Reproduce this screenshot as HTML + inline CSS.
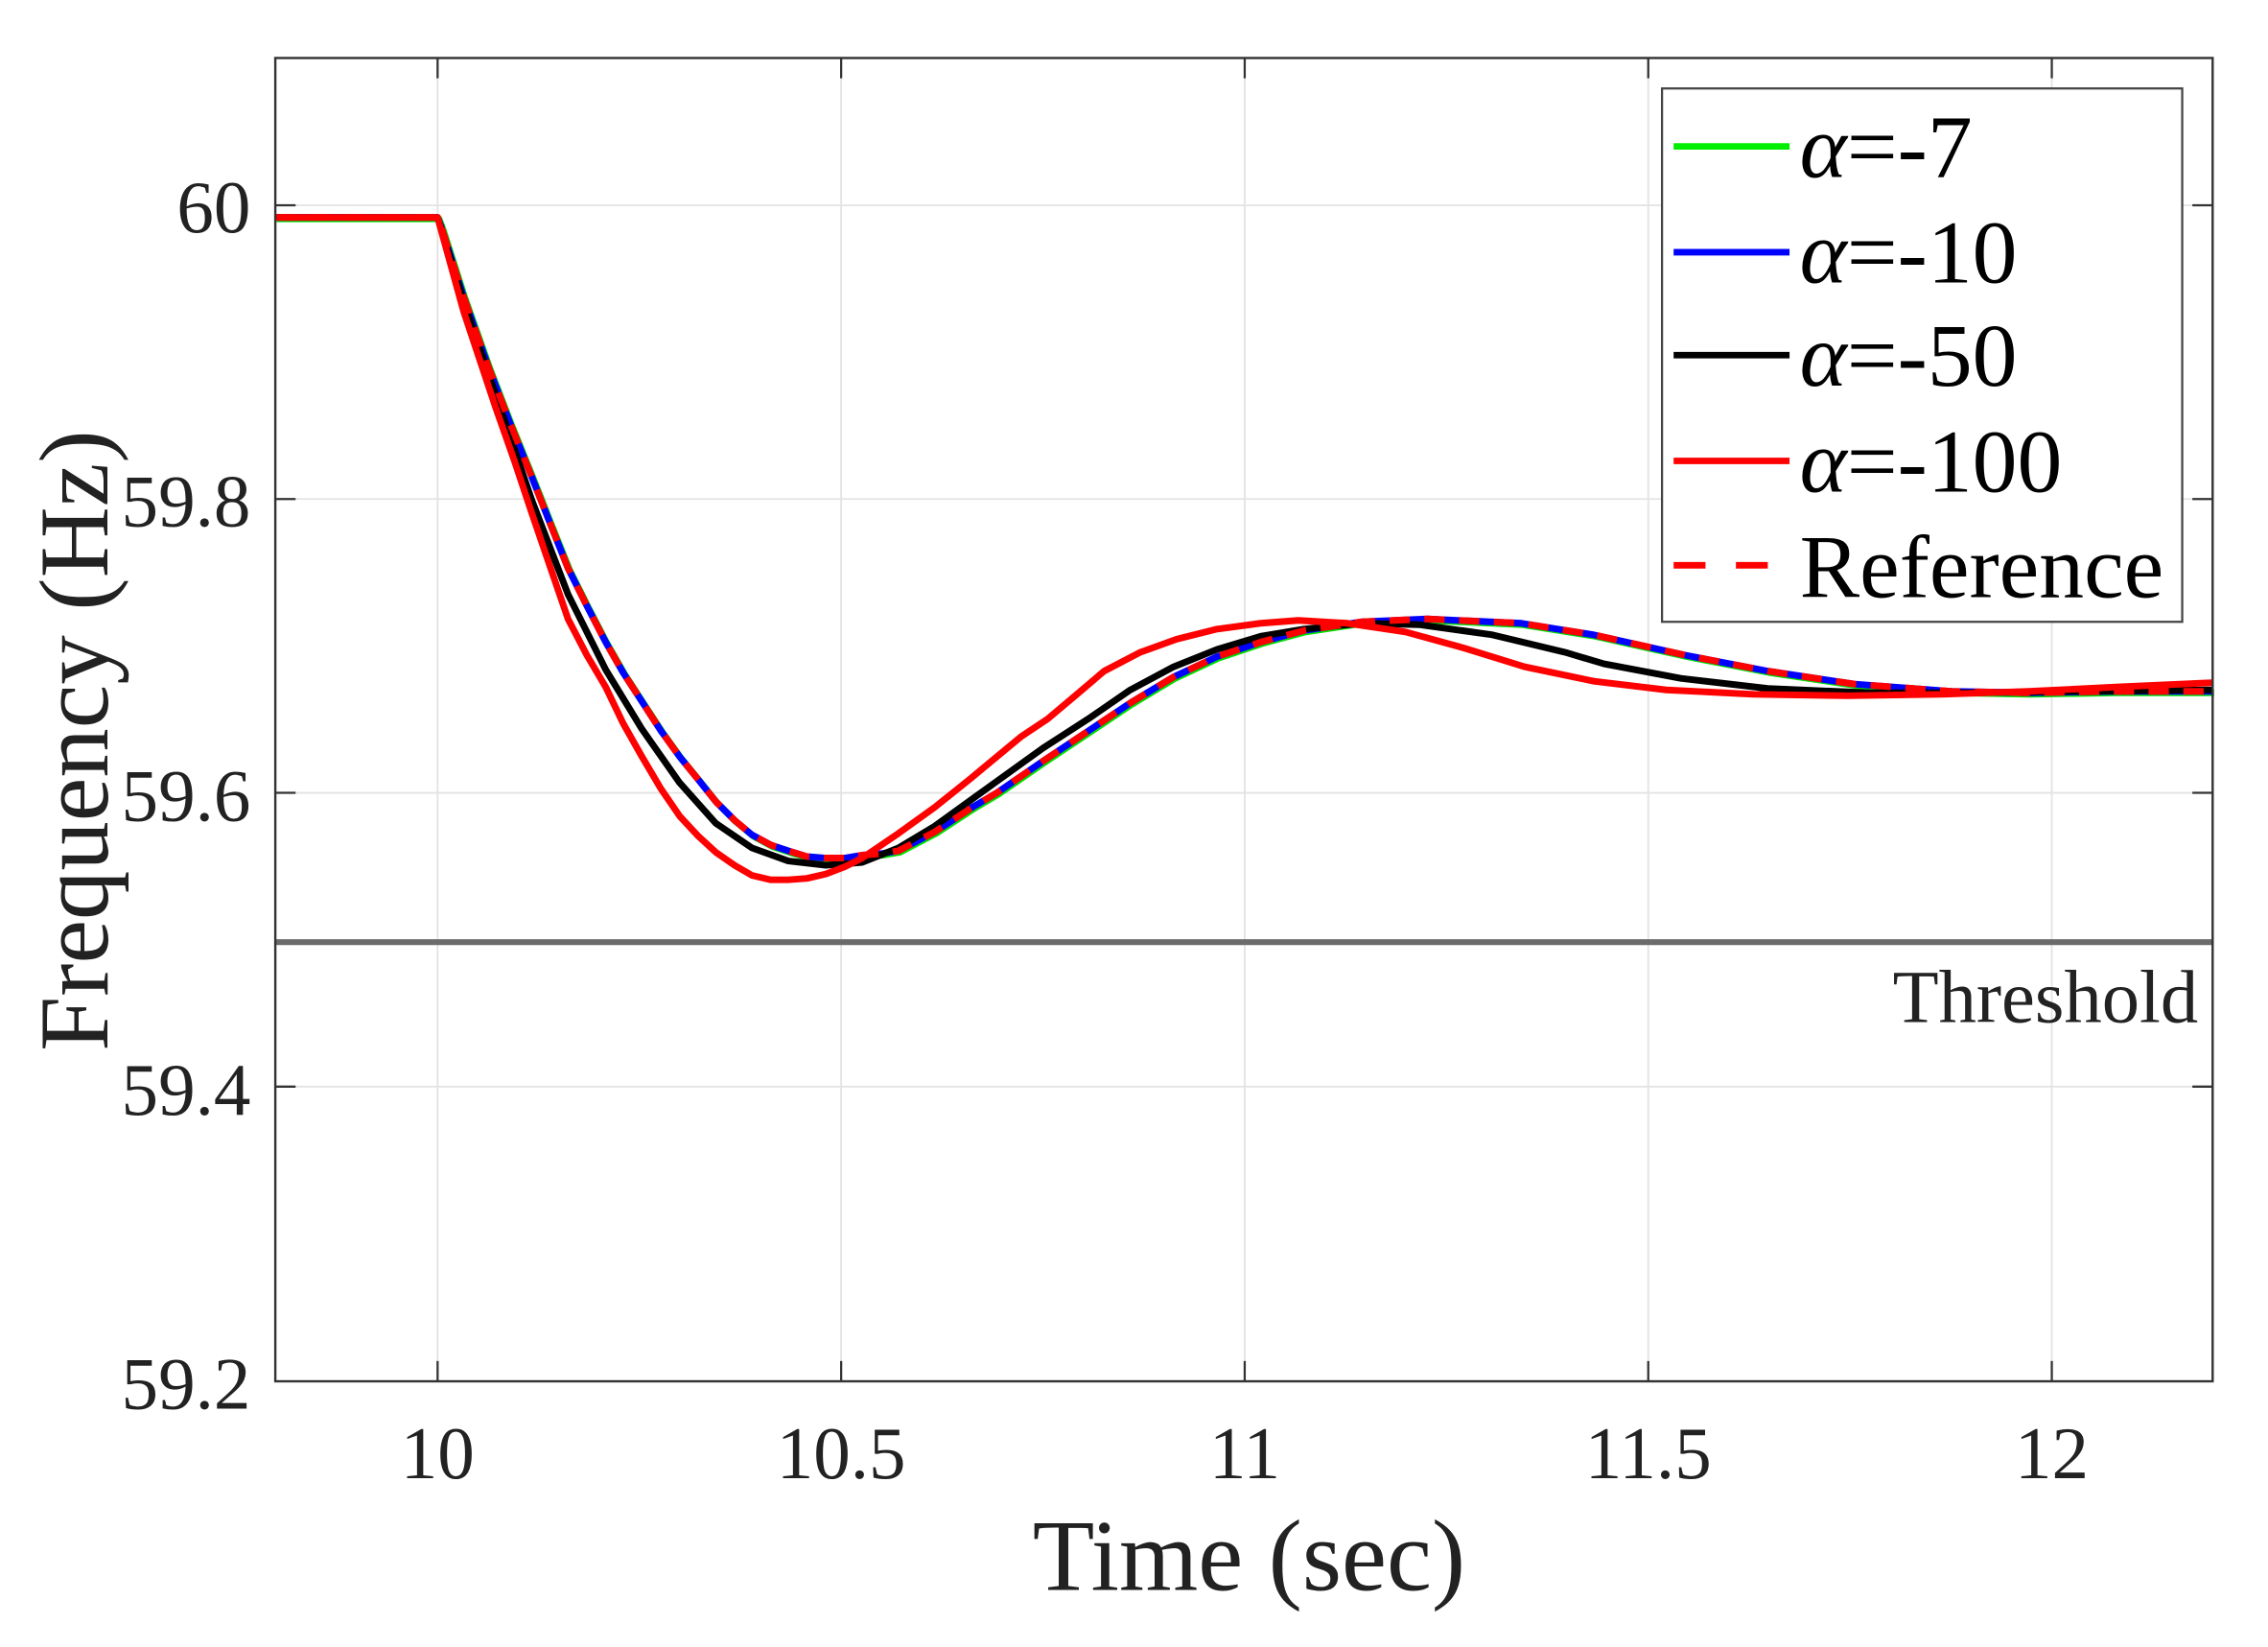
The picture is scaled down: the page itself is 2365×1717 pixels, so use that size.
<!DOCTYPE html>
<html><head><meta charset="utf-8"><style>html,body{margin:0;padding:0;background:#fff}svg{display:block}</style></head>
<body>
<svg width="2365" height="1717" viewBox="0 0 1565.2 1136.3" xmlns="http://www.w3.org/2000/svg" font-family="'Liberation Serif', serif">
<rect width="1565.2" height="1136.3" fill="#fff"/>
<g stroke="#e3e3e3" stroke-width="1.2">
<line x1="302" y1="40" x2="302" y2="953"/><line x1="580.5" y1="40" x2="580.5" y2="953"/><line x1="859" y1="40" x2="859" y2="953"/><line x1="1137.5" y1="40" x2="1137.5" y2="953"/><line x1="1416" y1="40" x2="1416" y2="953"/>
<line x1="190" y1="141.6" x2="1527" y2="141.6"/><line x1="190" y1="344.3" x2="1527" y2="344.3"/><line x1="190" y1="547" x2="1527" y2="547"/><line x1="190" y1="749.7" x2="1527" y2="749.7"/>
</g>
<g stroke="#333" stroke-width="1.5">
<line x1="302" y1="953" x2="302" y2="939"/><line x1="580.5" y1="953" x2="580.5" y2="939"/><line x1="859" y1="953" x2="859" y2="939"/><line x1="1137.5" y1="953" x2="1137.5" y2="939"/><line x1="1416" y1="953" x2="1416" y2="939"/>
<line x1="302" y1="40" x2="302" y2="54"/><line x1="580.5" y1="40" x2="580.5" y2="54"/><line x1="859" y1="40" x2="859" y2="54"/><line x1="1137.5" y1="40" x2="1137.5" y2="54"/><line x1="1416" y1="40" x2="1416" y2="54"/>
<line x1="190" y1="141.6" x2="204" y2="141.6"/><line x1="190" y1="344.3" x2="204" y2="344.3"/><line x1="190" y1="547" x2="204" y2="547"/><line x1="190" y1="749.7" x2="204" y2="749.7"/>
<line x1="1527" y1="141.6" x2="1513" y2="141.6"/><line x1="1527" y1="344.3" x2="1513" y2="344.3"/><line x1="1527" y1="547" x2="1513" y2="547"/><line x1="1527" y1="749.7" x2="1513" y2="749.7"/>
</g>
<line x1="190" y1="650" x2="1527" y2="650" stroke="#6b6b6b" stroke-width="4"/>
<text x="1517" y="705" font-size="52" text-anchor="end" fill="#222">Threshold</text>
<g fill="none" stroke-linejoin="round" stroke-width="4.6">
<polyline stroke="#00e000" transform="translate(1,1)" points="190,150 302,150 305,158 320,205 337,253 352,292 367,329 380,362 392,392 405,418 418,443 430,464 443,484 456,504 469,522 482,538 494,553 507,566 519,576 532,583 544,587 557,591 570,592 583,592 595,590 608,589 620,587 645,574 671,557 688,547 720,525 750,505 780,485 810,467 840,453 870,443 900,435 940,429 985,427 1050,430 1100,438 1163,452 1220,463 1280,472 1347,477 1400,478 1460,477 1527,477"/>
<polyline stroke="#0000ff" points="190,150 302,150 305,158 320,205 337,253 352,292 367,329 380,362 392,392 405,418 418,443 430,464 443,484 456,504 469,522 482,538 494,553 507,566 519,576 532,583 544,587 557,591 570,592 583,592 595,590 608,589 620,587 645,574 671,557 688,547 720,525 750,505 780,485 810,467 840,453 870,443 900,435 940,429 985,427 1050,430 1100,438 1163,452 1220,463 1280,472 1347,477 1400,478 1460,477 1527,477"/>
<polyline stroke="#000" points="190,150 302,150 320,208 342,272 367,345 392,410 418,462 443,503 469,540 494,568 519,585 544,594 570,597 595,595 620,585 645,570 688,539 720,516 751,496 780,476 810,460 840,448 870,439 900,434 940,430 980,431 1030,438 1080,450 1107,458 1160,468 1220,475 1290,478 1360,478 1430,477 1527,476"/>
<polyline stroke="#ff0000" stroke-dasharray="14,10" points="190,150 302,150 305,158 320,205 337,253 352,292 367,329 380,362 392,392 405,418 418,443 430,464 443,484 456,504 469,522 482,538 494,553 507,566 519,576 532,583 544,587 557,591 570,592 583,592 595,590 608,589 620,587 645,574 671,557 688,547 720,525 750,505 780,485 810,467 840,453 870,443 900,435 940,429 985,427 1050,430 1100,438 1163,452 1220,463 1280,472 1347,477 1400,478 1460,477 1527,477"/>
<polyline stroke="#ff0000" points="190,150 302,150 320,215 342,281 355,318 367,354 380,392 392,427 405,452 418,474 430,499 443,522 456,544 469,563 482,577 494,588 507,597 519,604 532,607 544,607 557,606 570,603 583,598 595,592 620,575 645,557 670,537 688,522 705,508 723,496 742,480 762,463 787,450 812,441 840,434 870,430 896,428 930,430 970,436 1010,447 1052,460 1100,470 1150,476 1210,479 1275,480 1340,479 1400,477 1460,474 1527,471"/>
</g>
<rect x="190" y="40" width="1337" height="913" fill="none" stroke="#333" stroke-width="1.6"/>
<rect x="1147" y="61" width="359" height="368" fill="#fff" stroke="#444" stroke-width="1.5"/>
<g stroke-width="4.5">
<line x1="1155" y1="101" x2="1235" y2="101" stroke="#00ee00"/>
<line x1="1155" y1="174" x2="1235" y2="174" stroke="#0000ff"/>
<line x1="1155" y1="245" x2="1235" y2="245" stroke="#000"/>
<line x1="1155" y1="318" x2="1235" y2="318" stroke="#ff0000"/>
<line x1="1155" y1="390" x2="1235" y2="390" stroke="#ff0000" stroke-dasharray="22,21"/>
</g>
<g font-size="62" fill="#000">
<text x="1242" y="122"><tspan font-style="italic">α</tspan>=-7</text>
<text x="1242" y="195"><tspan font-style="italic">α</tspan>=-10</text>
<text x="1242" y="266"><tspan font-style="italic">α</tspan>=-50</text>
<text x="1242" y="339"><tspan font-style="italic">α</tspan>=-100</text>
<text x="1242" y="412">Reference</text>
</g>
<g font-size="51" fill="#222" text-anchor="end">
<text x="173" y="160">60</text><text x="173" y="363">59.8</text><text x="173" y="566">59.6</text><text x="173" y="769">59.4</text><text x="173" y="972">59.2</text>
</g>
<g font-size="51" fill="#222" text-anchor="middle">
<text x="302" y="1020">10</text><text x="580.5" y="1020">10.5</text><text x="859" y="1020">11</text><text x="1137.5" y="1020">11.5</text><text x="1416" y="1020">12</text>
</g>
<text x="862" y="1097" font-size="70" fill="#222" text-anchor="middle">Time (sec)</text>
<text transform="translate(74,511) rotate(-90)" font-size="68" fill="#222" text-anchor="middle">Frequency (Hz)</text>
</svg>
</body></html>
